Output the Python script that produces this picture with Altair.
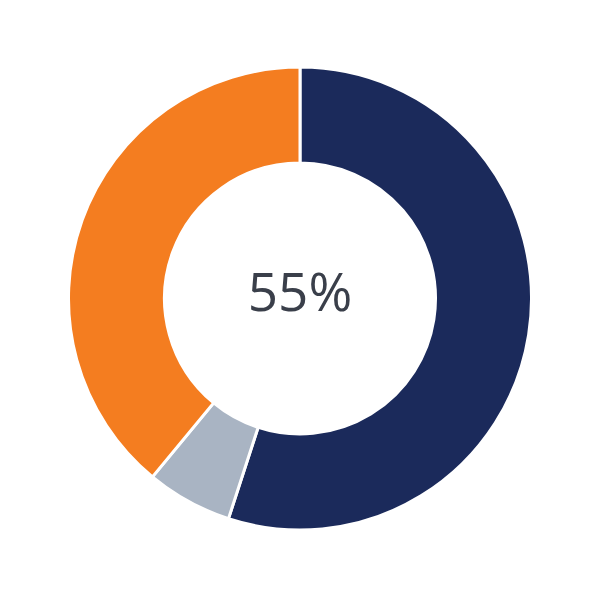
import altair as alt
import pandas as pd

categories = ["A", "B", "C"]
values = [55, 6, 39]
colors = ["#1b2a5b", "#a9b4c3", "#f47d20"]
order = [1, 2, 3]
center_label = ["55%"]

df = pd.DataFrame({"category": categories, "value": values, "order": order})
label_df = pd.DataFrame({"label": center_label})

arcs = alt.Chart(df).mark_arc(
    outerRadius=231.5, innerRadius=135.5, stroke="white", strokeWidth=3
).encode(
    theta=alt.Theta("value:Q", stack=True),
    order=alt.Order("order:Q"),
    color=alt.Color("category:N", scale=alt.Scale(domain=categories, range=colors), legend=None),
)

text = alt.Chart(label_df).mark_text(
    font="Open Sans", fontSize=53, fontWeight=400, color="#3a3f4a", baseline="middle", align="center", dy=-4
).encode(text="label:N")

chart = alt.layer(arcs, text).properties(
    width=584, height=581, padding=0, autosize=alt.AutoSizeParams(type="none")
).configure_view(stroke=None)

chart.save("out.html", embed_options={"renderer": "svg", "actions": False})
